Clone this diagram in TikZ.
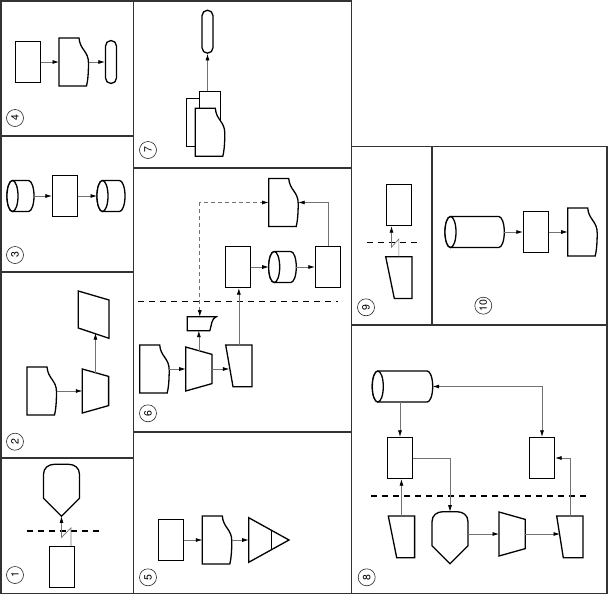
\documentclass[tikz,border=0pt]{standalone}
\usepackage{fontspec}
\setmainfont{TeX Gyre Heros}
\usetikzlibrary{arrows.meta,calc}
\tikzstyle{every node}=[font=\fontsize{10.5}{12}\selectfont]
\tikzstyle{panelline}=[draw=black!80,line width=1.3pt]
\tikzstyle{shapeline}=[draw=black,line width=1.3pt,fill=white,line join=miter]
\tikzstyle{boxnode}=[shapeline,rectangle,inner sep=0pt,minimum width=25pt,minimum height=41pt]
\tikzstyle{stacknode}=[shapeline,rectangle,inner sep=0pt,minimum height=48.4pt]
\tikzstyle{termnode}=[shapeline,rectangle,rounded corners=5.5pt,inner sep=0pt,minimum width=11pt,minimum height=43pt]
\tikzstyle{flowline}=[draw=black!55,line width=0.7pt,->,>={Latex[length=6.5pt,width=4pt,color=black]}]
\tikzstyle{twoway}=[<->]
\tikzstyle{boundaryline}=[draw=black,line width=1.3pt,dash pattern=on 6pt off 5pt]
\tikzstyle{numcirc}=[circle,draw=black!85,line width=0.6pt,minimum size=17pt,inner sep=0pt,rotate=90]

% flowchart symbols, drawn from their top left corner
\tikzset{
  pics/doc/.style={code={
    \draw[shapeline] (0,0) -- (20,0) .. controls (21,12) and (29.5,13) .. (29.5,25)
      .. controls (29.5,37) and (28.5,44) .. (27.5,48) -- (0,48) -- cycle;
    \coordinate (-w) at (0,24);
    \coordinate (-e) at (29.5,24);
  }},
  pics/drum/.style={code={
    \draw[shapeline] (5.5,0) -- (#1-5.5,0) .. controls (#1-2.46,0) and (#1,6.94) .. (#1,15.5)
      .. controls (#1,24.06) and (#1-2.46,31) .. (#1-5.5,31) -- (5.5,31)
      .. controls (2.46,31) and (0,24.06) .. (0,15.5) .. controls (0,6.94) and (2.46,0) .. (5.5,0) -- cycle;
    \draw[shapeline] (5.5,15.5) ellipse [x radius=5.5,y radius=15.5];
    \coordinate (-w) at (0,15.5);
    \coordinate (-e) at (#1,15.5);
    \coordinate (-s) at (#1/2,31);
  }},
  pics/mop/.style={code={
    \draw[shapeline] (0,0) -- (26.3,7.4) -- (26.3,36.6) -- (0,44) -- cycle;
    \coordinate (-w) at (0,22);
    \coordinate (-e) at (26.3,22);
    \coordinate (-n) at (13.15,3.7);
  }},
  pics/quad/.style={code={
    \draw[shapeline] (0,0) -- (26.3,0) -- (26.3,41.7) -- (#1,41.7) -- cycle;
    \coordinate (-n) at (13.15,0);
    \coordinate (-w) at (#1/2,20.85);
  }},
  pics/shield/.style={code={
    \draw[shapeline] (0,34) -- (0,10) .. controls (0,3.5) and (5,0) .. (11,0) -- (25,0)
      .. controls (31,0) and (36,3.5) .. (36,10) -- (36,34) -- (18,52) -- cycle;
    \coordinate (-n) at (18,0);
    \coordinate (-s) at (18,52);
    \coordinate (-e) at (36,22.3);
  }},
  pics/para/.style={code={
    \draw[shapeline] (0,0) -- (30.7,9) -- (30.7,47.3) -- (0,37) -- cycle;
    \coordinate (-s) at (15.35,42.15);
  }},
  pics/merge/.style={code={
    \draw[shapeline] (0,0) -- (40.3,22.3) -- (0,44.6) -- cycle;
    \draw[shapeline] (22.6,12.5) -- (22.6,32.1);
    \coordinate (-w) at (0,22.3);
  }},
  pics/tape/.style={code={
    \draw[shapeline] (0,0) -- (29,0) .. controls (24,2) and (24.5,8) .. (22.5,14) -- (0,14) -- cycle;
    \coordinate (-n) at (12.5,0);
    \coordinate (-s) at (12.5,14);
  }}
}

\begin{document}
\begin{tikzpicture}[x=1pt,y=-1pt]
    \useasboundingbox (0,0) rectangle (608,595);

    % panel frames
    \draw[panelline] (1,1) rectangle (133.5,593.5);
    \draw[panelline] (133.5,1) rectangle (351.5,593.5);
    \draw[panelline] (351.5,146.5) rectangle (607,593.5);
    \draw[panelline] (1,136) -- (133.5,136) (1,272) -- (133.5,272) (1,458) -- (133.5,458);
    \draw[panelline] (133.5,168) -- (351.5,168) (133.5,432) -- (351.5,432);
    \draw[panelline] (351.5,325) -- (607,325) (432,146.5) -- (432,325);

    % panel 4
    \node[boxnode] (r4) at (28,62) {};
    \pic (d4) at (59,38) {doc};
    \node[termnode] (t4) at (111,62) {};
    \draw[flowline] (r4.east) -- (d4-w);
    \draw[flowline] (d4-e) -- (t4.west);
    \node[numcirc] (n4) at (15,118) {4};

    % panel 3
    \pic (c3a) at (7,180.5) {drum=27};
    \node[boxnode] (r3) at (65,196) {};
    \pic (c3b) at (97,180.5) {drum=28};
    \draw[flowline] (c3a-e) -- (r3.west);
    \draw[flowline] (r3.east) -- (c3b-w);
    \node[numcirc] (n3) at (15,255) {3};

    % panel 2
    \pic (pg2) at (78.3,291) {para};
    \pic (d2) at (27,367) {doc};
    \pic (m2) at (82.3,369) {mop};
    \draw[flowline] (d2-e) -- (m2-w);
    \draw[flowline] (m2-n) -- (m2-n |- pg2-s);
    \node[numcirc] (n2) at (15,441.7) {2};

    % panel 1
    \pic (sh1) at (43.5,464.3) {shield};
    \node[boxnode] (r1) at (62,567) {};
    \draw[boundaryline] (26.7,531) -- (103.3,531);
    \draw[flowline] ($(r1.north)+(9,0)$) -- ++(0,-18) -- ($(sh1-s)+(0,21)$) -- (sh1-s);
    \node[numcirc] (n1) at (15,575) {1};

    % panel 7
    \node[termnode] (t7) at (207.5,31.7) {};
    \node[stacknode,minimum width=25.7pt] (s7a) at (199.2,122.5) {};
    \node[stacknode,minimum width=20.6pt] (s7b) at (210,115.9) {};
    \pic (d7) at (195.3,108.3) {doc};
    \draw[flowline] (s7b.north -| t7.south) -- (t7.south);
    \node[numcirc] (n7) at (148,150) {7};

    % panel 6
    \pic (d6a) at (268.7,178.5) {doc};
    \node[boxnode] (r6a) at (238,267) {};
    \pic (c6) at (268.7,251.5) {drum=27.6};
    \node[boxnode] (r6b) at (328,267) {};
    \pic (p6) at (187.3,316.7) {tape};
    \pic (d6b) at (139.7,345) {doc};
    \pic (m6) at (185.7,347) {mop};
    \pic (q6) at (225.7,345) {quad=7.3};
    \draw[boundaryline] (138,301.7) -- (338,301.7);
    \draw[flowline] (r6a.east) -- (c6-w);
    \draw[flowline] (c6-e) -- (r6b.west);
    \draw[flowline] (r6b.north) |- (d6a-e);
    \draw[flowline,twoway,dash pattern=on 4pt off 3pt] (p6-n) |- (d6a-w);
    \draw[flowline] (d6b-e) -- (m6-w);
    \draw[flowline] (m6-e) -- (m6-e -| q6-w);
    \draw[flowline] (m6-n) -- (m6-n |- p6-s);
    \draw[flowline] (q6-n) -- (q6-n |- r6a.south);
    \node[numcirc] (n6) at (148,413.3) {6};

    % panel 5
    \node[boxnode] (r5) at (171,540) {};
    \pic (d5) at (202.3,516) {doc};
    \pic (g5) at (248.7,517.7) {merge};
    \draw[flowline] (r5.east) -- (d5-w);
    \draw[flowline] (d5-e) -- (g5-w);
    \node[numcirc] (n5) at (148,577.3) {5};

    % panel 9
    \node[boxnode] (r9) at (399,205) {};
    \pic (q9) at (385.7,256.7) {quad=8.6};
    \draw[boundaryline] (366.7,242.7) -- (418.3,242.7);
    \draw[flowline] (q9-n) -- ++(0,-17.7) -- ($(r9.south)+(-7.5,21)$) -- ($(r9.south)+(-7.5,0)$);
    \node[numcirc] (n9) at (366,307.3) {9};

    % panel 10
    \pic (c10) at (445,216.5) {drum=59.3};
    \node[boxnode] (r10) at (536,232) {};
    \pic (d10) at (567.7,208) {doc};
    \draw[flowline] (c10-e) -- (r10.west);
    \draw[flowline] (r10.east) -- (d10-w);
    \node[numcirc] (n10) at (483.3,305.7) {10};

    % panel 8
    \pic (c8) at (372.3,371) {drum=60.4};
    \node[boxnode] (r8a) at (400,458) {};
    \node[boxnode] (r8b) at (542,458) {};
    \pic (q8a) at (388.3,516) {quad=8.4};
    \pic (sh8) at (432,511.7) {shield};
    \pic (m8) at (499,512) {mop};
    \pic (q8b) at (556.7,516) {quad=6.6};
    \draw[boundaryline] (371,496) -- (585.7,496);
    \draw[flowline] (r8a.north |- c8-s) -- (r8a.north);
    \draw[flowline,twoway] (r8b.north) |- (c8-e);
    \draw[flowline] (q8a-n) -- (q8a-n |- r8a.south);
    \draw[flowline] (r8a.east) -| (sh8-n);
    \draw[flowline] (sh8-e) -- (m8-w);
    \draw[flowline] (m8-e) -- (m8-e -| q8b-w);
    \draw[flowline] (q8b-n) |- (r8b.east);
    \node[numcirc] (n8) at (366.7,577.3) {8};
\end{tikzpicture}
\end{document}
